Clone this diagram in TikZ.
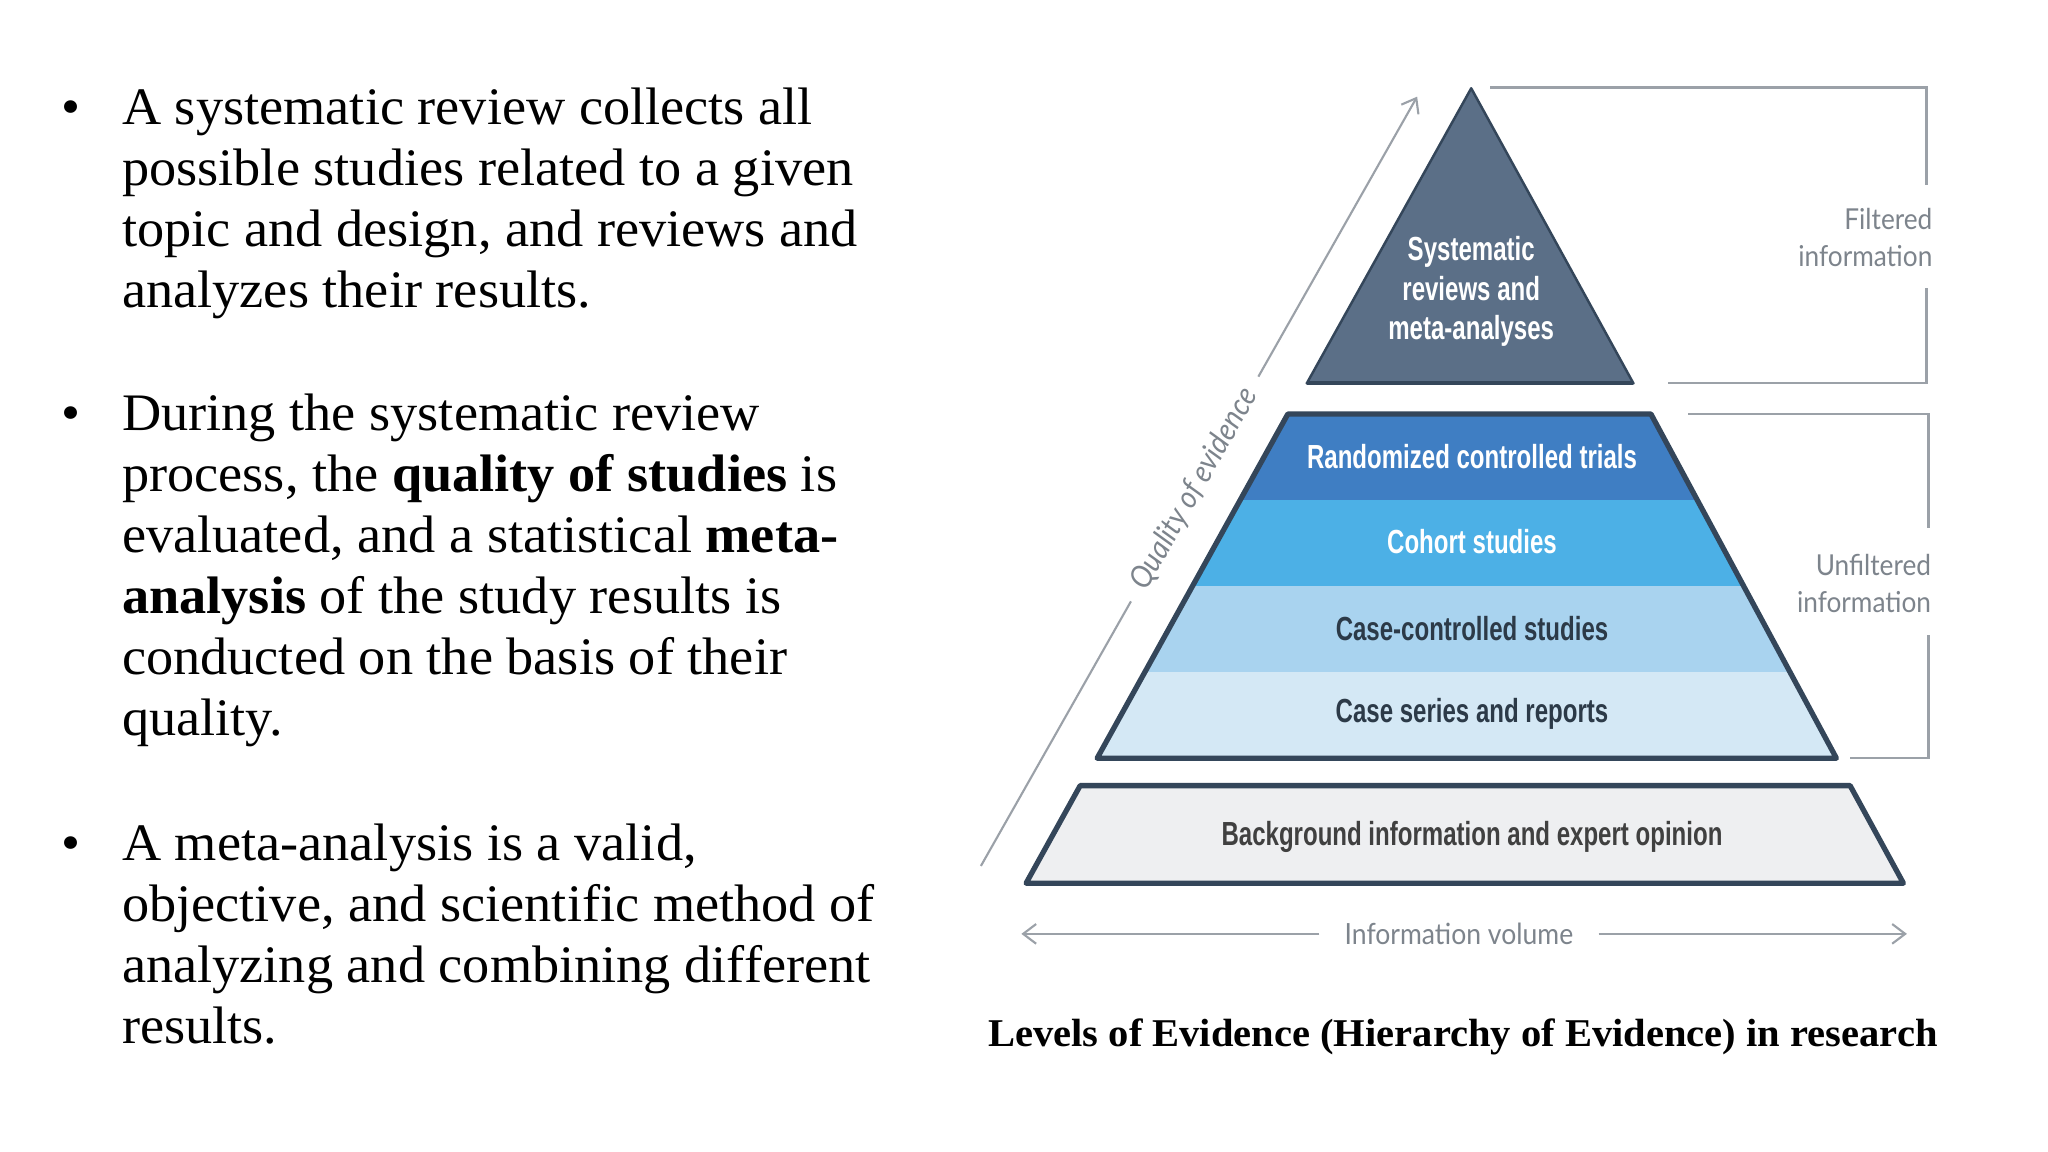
\documentclass[tikz,border=0pt]{standalone}
\usepackage{fontspec}
\setmainfont[FakeStretch=1.03]{Liberation Serif}
\newfontfamily\pyrfont[FakeStretch=0.72]{Liberation Sans}
\newfontfamily\notefont[FakeStretch=0.91]{Lato}
\usepackage{xcolor}
\usetikzlibrary{calc,arrows.meta}

\definecolor{bordo}{HTML}{34465A}
\definecolor{apice}{HTML}{5B6F87}
\definecolor{rct}{HTML}{3F7EC3}
\definecolor{coorte}{HTML}{4CB0E6}
\definecolor{casoctrl}{HTML}{A9D3EF}
\definecolor{serie}{HTML}{D4E8F5}
\definecolor{sfondo}{HTML}{EEEFF1}
\definecolor{grigio}{HTML}{9BA1A8}
\definecolor{notegray}{HTML}{7D848C}
\definecolor{scuro}{HTML}{2C3A48}

\tikzset{
  gline/.style={grigio, line width=0.6pt},
  garrow/.style={gline, -{Straight Barb[length=3.7pt,width=5.6pt]}},
  pyrtext/.style={font=\pyrfont\bfseries\fontsize{9.5}{11.2}\selectfont, inner sep=0pt, anchor=base},
  note/.style={font=\notefont\fontsize{8.2}{10.5}\selectfont, notegray, align=right, inner sep=0pt, anchor=east},
  bodytext/.style={anchor=base west, inner sep=0pt, font=\fontsize{15}{17.36}\selectfont},
}

\begin{document}
\begin{tikzpicture}[x=0.01306cm, y=-0.01306cm]
    \useasboundingbox[fill=white] (0,0) rectangle (1568,882);

    % testo a sinistra
    \node[bodytext, anchor=base] (bulA) at (54.5,95.5) {\textbullet};
    \node[bodytext] (txtA) at (93,95.5) {\parbox[t]{320pt}{A systematic review collects all\\
      possible studies related to a given\\
      topic and design, and reviews and\\
      analyzes their results.}};
    \node[bodytext, anchor=base] (bulB) at (54.5,329.8) {\textbullet};
    \node[bodytext] (txtB) at (93,329.8) {\parbox[t]{320pt}{During the systematic review\\
      process, the \textbf{quality of studies} is\\
      evaluated, and a statistical \textbf{meta-}\\
      \textbf{analysis} of the study results is\\
      conducted on the basis of their\\
      quality.}};
    \node[bodytext, anchor=base] (bulC) at (54.5,659) {\textbullet};
    \node[bodytext] (txtC) at (93,659) {\parbox[t]{320pt}{A meta-analysis is a valid,\\
      objective, and scientific method of\\
      analyzing and combining different\\
      results.}};

    % piramide: vertice
    \coordinate (apex) at (1126.4,67.6);
    \coordinate (tbl) at (1000.5,293.5);
    \coordinate (tbr) at (1250.6,293.5);
    \filldraw[fill=apice, draw=bordo, line width=0.7pt, line join=round] (apex) -- (tbr) -- (tbl) -- cycle;
    \draw[bordo, line width=1.2pt] (tbl) -- (tbr);
    \foreach \riga/\y [count=\i] in {Systematic/199.6, reviews and/229.7, meta-analyses/259.8}
        \node[pyrtext, white] (sys\i) at (1126.4,\y) {\riga};

    % piramide: studi non filtrati
    \coordinate (TL) at (986,317);
    \coordinate (TR) at (1264,317);
    \coordinate (BL) at (840,580.5);
    \coordinate (BR) at (1406,580.5);
    \foreach \a/\b/\col in {0/0.25/rct, 0.25/0.5/coorte, 0.5/0.75/casoctrl, 0.75/1/serie}
        \fill[\col] ($(TL)!\a!(BL)$) -- ($(TR)!\a!(BR)$) -- ($(TR)!\b!(BR)$) -- ($(TL)!\b!(BL)$) -- cycle;
    \draw[bordo, line width=1.5pt, line join=round] (TL) -- (TR) -- (BR) -- (BL) -- cycle;
    \node[pyrtext, white] (lrct) at (1127,359) {Randomized controlled trials};
    \node[pyrtext, white] (lcoh) at (1127,424) {Cohort studies};
    \node[pyrtext, scuro] (lcc) at (1127,490) {Case-controlled studies};
    \node[pyrtext, scuro] (lcs) at (1127,553) {Case series and reports};

    % base
    \filldraw[fill=sfondo, draw=bordo, line width=1.5pt, line join=round] (827,601.5) -- (1416.5,601.5) -- (1457.3,676.2) -- (785.6,676.2) -- cycle;
    \node[pyrtext, color=black!75] (lbg) at (1127,647.5) {Background information and expert opinion};

    % parentesi a destra
    \draw[gline] (1141,67) -- (1475,67) -- (1475,141.6);
    \draw[gline] (1475,220.8) -- (1475,293.5) -- (1277.4,293.5);
    \node[note] (filt) at (1480,182) {Filtered\\information};
    \draw[gline] (1292.7,317) -- (1476.5,317) -- (1476.5,404.5);
    \draw[gline] (1476.5,486.2) -- (1476.5,580.5) -- (1416.5,580.5);
    \node[note] (unfilt) at (1479,446.5) {Unfiltered\\information};

    % frecce
    \coordinate (qs) at (751,663);
    \coordinate (qe) at (1085,74);
    \path (qs) -- node[pos=0.49, sloped, font=\notefont\itshape\fontsize{8.8}{10}\selectfont, notegray, inner xsep=4.5pt, inner ysep=0pt] (qual) {Quality of evidence} (qe);
    \draw[gline] (qs) -- (qual.west);
    \draw[garrow] (qual.east) -- (qe);

    \coordinate (ivL) at (782,715);
    \coordinate (ivR) at (1460,715);
    \node[font=\notefont\fontsize{8.3}{9.5}\selectfont, notegray, inner xsep=7pt, inner ysep=0pt] (ivol) at (1117,715) {Information volume};
    \draw[garrow] (ivol.west) -- (ivL);
    \draw[garrow] (ivol.east) -- (ivR);

    \node[font=\bfseries\fontsize{11.2}{13}\selectfont, anchor=base, inner sep=0pt] (caption) at (1120,801.4) {Levels of Evidence (Hierarchy of Evidence) in research};
\end{tikzpicture}
\end{document}
